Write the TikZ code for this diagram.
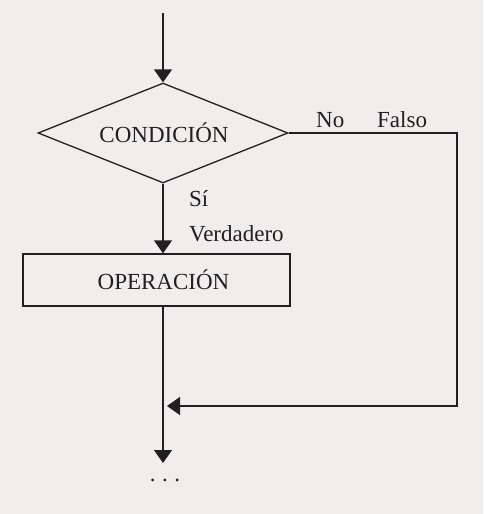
\documentclass[tikz,border=0pt]{standalone}
\usepackage{fontspec}
\setmainfont{Liberation Serif}
\usetikzlibrary{shapes.geometric,arrows.meta}
\definecolor{bg}{HTML}{EFEEEC}
\definecolor{ink}{HTML}{231F20}
\tikzset{
  ln/.style={draw=ink,line width=1.3pt},
  arr/.style={ln,-{Triangle[length=13pt,width=18pt]}},
  lbl/.style={font=\fontsize{23}{25}\selectfont,text=ink,inner sep=0pt},
}
\begin{document}
\begin{tikzpicture}[x=1pt,y=-1pt]
\fill[bg] (0,0) rectangle (483,514);
\useasboundingbox (0,0) rectangle (483,514);
\coordinate (start) at (163,13);
\node[diamond,aspect=2.5,ln,minimum width=250pt,minimum height=100pt,inner sep=0pt,lbl] (cond) at (163,133) {\hspace*{2pt}CONDICIÓN};
\node[rectangle,ln,minimum width=267pt,minimum height=52pt,inner sep=0pt,lbl] (op) at (156.5,280) {\hspace*{14pt}OPERACIÓN};
\coordinate (rt) at (457,133);
\coordinate (rb) at (457,406);
\coordinate (join) at (167,406);
\node[lbl,anchor=base] (dots) at (165,481) {.\hspace{6.5pt}.\hspace{6.5pt}.};
\node[lbl,anchor=base west] (si) at (189,206) {Sí};
\node[lbl,anchor=base west] (verd) at (189,241) {Verdadero};
\node[lbl,anchor=base west] (no) at (316,127) {No};
\node[lbl,anchor=base west] (falso) at (377,127) {Falso};
\draw[arr] (start) -- (cond.north);
\draw[arr] (cond.south) -- (cond.south |- op.north);
\draw[arr] (cond.east) -- (rt) -- (rb) -- (join);
\draw[arr] (cond.south |- op.south) -- (cond.south |- 0,463);
\end{tikzpicture}
\end{document}
